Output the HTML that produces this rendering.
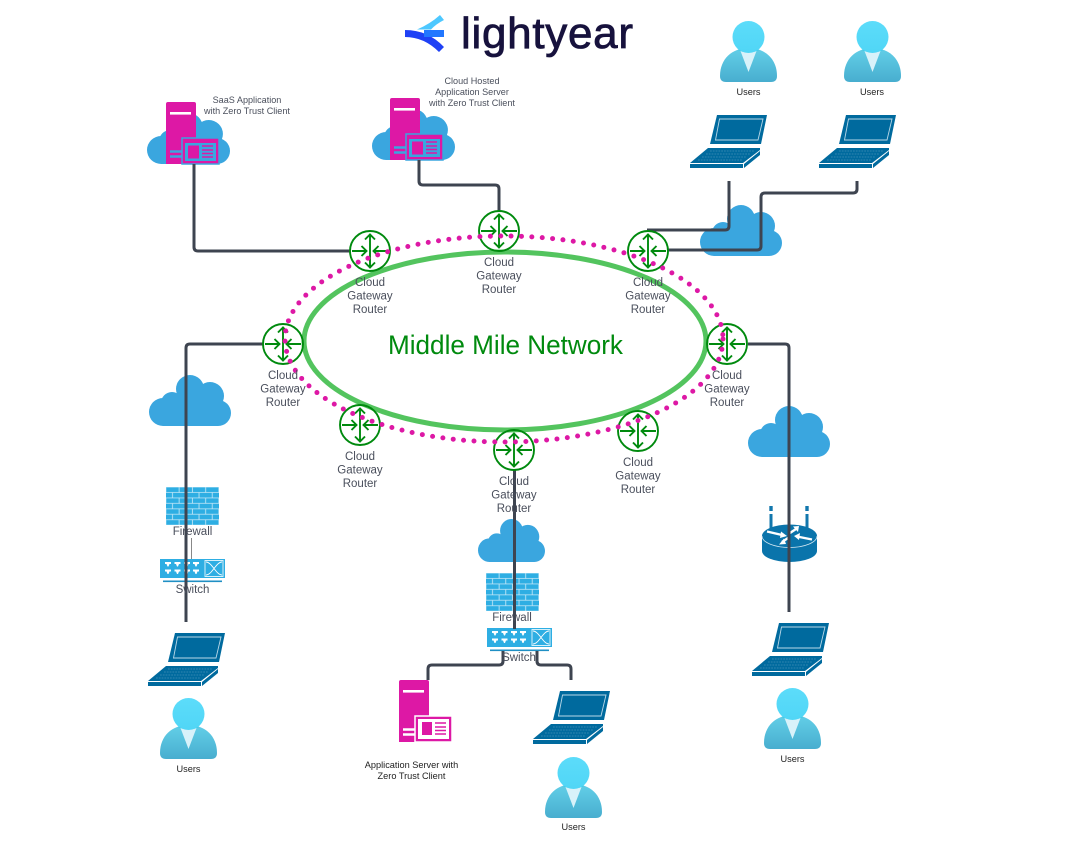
<!DOCTYPE html>
<html>
<head>
<meta charset="utf-8">
<style>
html,body{margin:0;padding:0;background:#fff;width:1088px;height:851px;overflow:hidden}
svg{display:block}
text{font-family:"Liberation Sans",sans-serif}
.r{font-size:11.5px;fill:#4a4f5c;text-anchor:middle}
.s{font-size:9.1px;fill:#4a4f5c;text-anchor:middle}
.k{font-size:9.2px;fill:#222;text-anchor:middle}
.c{fill:none;stroke:#3e4450;stroke-width:3;stroke-linejoin:round}
</style>
</head>
<body>
<svg width="1088" height="851" viewBox="0 0 1088 851" xmlns="http://www.w3.org/2000/svg">
<defs>
<linearGradient id="bg" x1="0" y1="0" x2="0" y2="1"><stop offset="0" stop-color="#63cfe8"/><stop offset="1" stop-color="#48aecf"/></linearGradient>
<linearGradient id="hg" x1="0" y1="0" x2="0" y2="1"><stop offset="0" stop-color="#5cdcfa"/><stop offset="1" stop-color="#50d6f6"/></linearGradient>
<pattern id="brick" width="13.25" height="10.9" patternUnits="userSpaceOnUse">
<rect width="13.25" height="10.9" fill="#c5e8f7"/>
<rect x="0.3" y="0.4" width="12.4" height="4.7" fill="#2eaee3"/>
<rect x="-6.3" y="5.85" width="12.4" height="4.7" fill="#2eaee3"/>
<rect x="6.95" y="5.85" width="12.4" height="4.7" fill="#2eaee3"/>
</pattern>
<symbol id="cloud" viewBox="0 0 82 51" preserveAspectRatio="none" overflow="visible">
<g fill="#3aa6df">
<circle cx="14" cy="37" r="14"/>
<circle cx="23" cy="28" r="11"/>
<circle cx="41" cy="14" r="14"/>
<circle cx="61" cy="21" r="14"/>
<circle cx="69" cy="38" r="13"/>
<rect x="14" y="22" width="55" height="29"/>
</g>
</symbol>
<symbol id="server" viewBox="0 0 54 62" overflow="visible">
<path fill="#dd18a5" d="M2,0 H28 Q30,0 30,2 V36 H16 V62 H0 V2 Q0,0 2,0 Z"/>
<rect x="4" y="10" width="21" height="2.6" fill="#fff"/>
<rect x="16" y="36" width="37" height="26" fill="#dd18a5" stroke="#fff" stroke-width="1.5"/>
<rect x="19" y="39" width="31" height="20" fill="#fff"/>
<rect x="23" y="42" width="10" height="13" fill="#dd18a5"/>
<path d="M36,43 H47 M36,47 H47 M36,50.5 H47 M36,54 H47" stroke="#dd18a5" stroke-width="1.4"/>
<path d="M4,49.5 H16 M4,54.5 H16" stroke="#fff" stroke-width="2.4"/>
</symbol>
<symbol id="server2" viewBox="0 0 54 62" overflow="visible">
<path fill="#dd18a5" d="M2,0 H28 Q30,0 30,2 V36 H16 V62 H0 V2 Q0,0 2,0 Z"/>
<rect x="4" y="10" width="21" height="2.6" fill="#fff"/>
<rect x="16" y="36" width="37" height="26" fill="#dd18a5" stroke="#3aa6df" stroke-width="1.5"/>
<rect x="19" y="41" width="31" height="18" fill="#3aa6df"/>
<rect x="22" y="43.5" width="11" height="13" fill="#dd18a5"/>
<path d="M36,44 H47 M36,48 H47 M36,51.5 H47 M36,55 H47" stroke="#dd18a5" stroke-width="1.4"/>
<path d="M4,49.5 H16 M4,54.5 H16" stroke="#3aa6df" stroke-width="2.4"/>
</symbol>
<symbol id="laptop" viewBox="0 0 77 52" overflow="visible">
<path fill="#006a9e" d="M27,-1 H77 L71,28 H20 Z"/>
<path fill="none" stroke="#b9d8e8" stroke-width="0.9" d="M29.500,3 H73 L68,24 H25.500 Z"/>
<path fill="#006a9e" d="M18,32 H70 V34 L53,47 H0 Z"/>
<path fill="#006a9e" d="M0,48 H53 V52 H0 Z"/>
<path fill="#006a9e" d="M54,48 L70,35 V39 L54,52 Z"/>
<path fill="none" stroke="#5f9fc1" stroke-width="0.6" stroke-dasharray="1.8 1" d="M20,35 H64 M16,38 H60 M12,41 H56 M8,44 H52"/>
</symbol>
<symbol id="user" viewBox="0 0 57 62" overflow="visible">
<path fill="url(#bg)" d="M0,55 C0,38 12,27 28.500,27 C45,27 57,38 57,55 Q57,61 51,61 H6 Q0,61 0,55 Z"/>
<path fill="#d8f2fa" d="M20.500,30 H36.500 L28.500,51 Z"/>
<path fill="#2cc3e2" d="M18,29 Q28.500,24 39,29 Q28.500,34 18,29 Z"/>
<circle cx="28.500" cy="16" r="16" fill="url(#hg)"/>
</symbol>
<symbol id="firewall" viewBox="0 0 53 38" overflow="visible">
<rect width="53" height="38" fill="url(#brick)"/>
</symbol>
<symbol id="switch" viewBox="0 0 65 24" overflow="visible">
<rect width="65" height="19" fill="#2eaee3"/>
<rect x="45" y="1.500" width="18" height="16" fill="#2eaee3" stroke="#d6f0fa" stroke-width="1"/>
<path d="M46,3 C52,3 56,16 62,16 M46,16 C52,16 56,3 62,3" fill="none" stroke="#fff" stroke-width="0.9"/>
<path fill="#fff" d="M5,3 H11 V5 H9.500 L8.500,7.500 H7.500 L6.500,5 H5 Z M14.500,3 H20.500 V5 H19 L18,7.500 H17 L16,5 H14.500 Z M24,3 H30 V5 H28.500 L27.500,7.500 H26.500 L25.500,5 H24 Z M33,3 H39 V5 H37.500 L36.500,7.500 H35.500 L34.500,5 H33 Z M5,10.500 H11 V12.500 H9.500 L8.500,15 H7.500 L6.500,12.500 H5 Z M14.500,10.500 H20.500 V12.500 H19 L18,15 H17 L16,12.500 H14.500 Z M24,10.500 H30 V12.500 H28.500 L27.500,15 H26.500 L25.500,12.500 H24 Z M33,10.500 H39 V12.500 H37.500 L36.500,15 H35.500 L34.500,12.500 H33 Z"/>
<rect x="3" y="21.500" width="59" height="1.600" fill="#1f8fc4"/>
</symbol>
<symbol id="wrouter" viewBox="0 0 55 57" overflow="visible">
<rect x="7.300" y="1" width="3.400" height="5" fill="#1277ad"/>
<rect x="43.300" y="1" width="3.400" height="5" fill="#1277ad"/>
<rect x="7.500" y="9" width="3" height="15" fill="#1277ad"/>
<rect x="43.500" y="9" width="3" height="15" fill="#1277ad"/>
<path fill="#0a74ab" d="M0,31 A27.500 11.500 0 0 1 55,31 V46 A27.500 11 0 0 1 0,46 Z"/>
<path fill="none" stroke="#d5e8f2" stroke-width="0.8" d="M0,31 A27.500 11.500 0 0 0 55,31"/>
<path fill="none" stroke="#fff" stroke-width="2.400" d="M5,26.500 L20,30 M28,28 L34,24 M35,31.500 L50,34.500 M26,33 L20,37"/>
<path fill="#fff" d="M19,26.500 L25,31 L18,33 Z M31,21.500 L37,21 L36,27 Z M38,28 L32,31 L37,35 Z M22,33.500 L17,39.500 L24,39 Z"/>
</symbol>
<symbol id="gw" viewBox="0 0 42 42" overflow="visible">
<circle cx="21" cy="21" r="20" fill="none" stroke="#008a0e" stroke-width="1.900"/>
<path fill="none" stroke="#008a0e" stroke-width="1.900" d="M21,4.500 V37.500 M16,9.500 L21,4.500 L26,9.500 M16,32.500 L21,37.500 L26,32.500 M3,21 H17.500 M12.500,16 L17.500,21 L12.500,26 M39,21 H24.500 M29.500,16 L24.500,21 L29.500,26"/>
</symbol>
</defs>

<!-- logo -->
<path fill="#1f41f5" d="M405,30 V37 Q424,37 439,52 L444,47 Q428,30 405,30 Z"/>
<rect x="424" y="30" width="20" height="7" fill="#2277ff"/>
<path fill="#4dc8ff" d="M417,29.500 Q430,24 440,15 L444,20 Q436,24 431,29.500 Z"/>
<text x="461" y="48" font-size="44" fill="#17123d" stroke="#17123d" stroke-width="0.800" textLength="172" lengthAdjust="spacing">lightyear</text>

<!-- clouds -->
<use href="#cloud" x="700" y="205" width="82" height="51"/>
<use href="#cloud" x="149" y="375" width="82" height="51"/>
<use href="#cloud" x="748" y="406" width="82" height="51"/>
<use href="#cloud" x="478" y="519" width="67" height="43"/>
<use href="#cloud" x="147" y="113" width="83" height="51"/>
<use href="#cloud" x="372" y="109" width="83" height="51"/>

<!-- servers -->
<use href="#server2" x="166" y="102" width="54" height="62"/>
<use href="#server2" x="390" y="98" width="54" height="62"/>
<use href="#server" x="399" y="680" width="54" height="62"/>

<!-- laptops -->
<use href="#laptop" x="690" y="116" width="77" height="52"/>
<use href="#laptop" x="819" y="116" width="77" height="52"/>
<use href="#laptop" x="148" y="634" width="77" height="52"/>
<use href="#laptop" x="533" y="692" width="77" height="52"/>
<use href="#laptop" x="752" y="624" width="77" height="52"/>

<!-- users -->
<use href="#user" x="720" y="21" width="57" height="62"/>
<use href="#user" x="844" y="21" width="57" height="62"/>
<use href="#user" x="160" y="698" width="57" height="62"/>
<use href="#user" x="545" y="757" width="57" height="62"/>
<use href="#user" x="764" y="688" width="57" height="62"/>

<!-- network devices -->
<use href="#firewall" x="166" y="487" width="53" height="38"/>
<use href="#firewall" x="486" y="573" width="53" height="38"/>
<use href="#switch" x="160" y="559" width="65" height="24"/>
<use href="#switch" x="487" y="628" width="65" height="24"/>
<use href="#wrouter" x="762" y="505" width="55" height="57"/>
<path d="M191.500,538 V559" stroke="#888" stroke-width="1" fill="none"/>

<!-- rings -->
<ellipse cx="505" cy="341" rx="201" ry="89" fill="none" stroke="#53c45e" stroke-width="5"/>

<!-- connectors -->
<path class="c" d="M194,164 V247 Q194,251 198,251 H350"/>
<path class="c" d="M419,160 V181 Q419,185 423,185 H495 Q499,185 499,189 V211"/>
<path class="c" d="M647,230 H725 Q729,230 729,226 V181"/>
<path class="c" d="M668,250 H757 Q761,250 761,246 V197 Q761,193 765,193 H853 Q857,193 857,189 V181"/>
<path class="c" d="M263,344 H190 Q186,344 186,348 V622"/>
<path class="c" d="M748,344 H785 Q789,344 789,348 V612"/>
<path class="c" d="M514.500,470 V629"/>
<path class="c" d="M503,651 V661 Q503,665 499,665 H432 Q428,665 428,669 V680"/>
<path class="c" d="M537,651 V661 Q537,665 541,665 H567 Q571,665 571,669 V680"/>

<!-- gateway routers -->
<use href="#gw" x="349" y="230" width="42" height="42"/>
<use href="#gw" x="478" y="210" width="42" height="42"/>
<use href="#gw" x="627" y="230" width="42" height="42"/>
<use href="#gw" x="262" y="323" width="42" height="42"/>
<use href="#gw" x="706" y="323" width="42" height="42"/>
<use href="#gw" x="339" y="404" width="42" height="42"/>
<use href="#gw" x="493" y="429" width="42" height="42"/>
<use href="#gw" x="617" y="410" width="42" height="42"/>

<ellipse cx="504" cy="339" rx="219" ry="103" fill="none" stroke="#dd18a5" stroke-width="5" stroke-linecap="round" stroke-dasharray="0 10.4"/>

<!-- text -->
<text x="388" y="354" font-size="27" fill="#008a0e" textLength="235" lengthAdjust="spacingAndGlyphs">Middle Mile Network</text>

<text class="r" x="370" y="286">Cloud</text><text class="r" x="370" y="299.500">Gateway</text><text class="r" x="370" y="313">Router</text>
<text class="r" x="499" y="266">Cloud</text><text class="r" x="499" y="279.500">Gateway</text><text class="r" x="499" y="293">Router</text>
<text class="r" x="648" y="286">Cloud</text><text class="r" x="648" y="299.500">Gateway</text><text class="r" x="648" y="313">Router</text>
<text class="r" x="283" y="379">Cloud</text><text class="r" x="283" y="392.500">Gateway</text><text class="r" x="283" y="406">Router</text>
<text class="r" x="727" y="379">Cloud</text><text class="r" x="727" y="392.500">Gateway</text><text class="r" x="727" y="406">Router</text>
<text class="r" x="360" y="460">Cloud</text><text class="r" x="360" y="473.500">Gateway</text><text class="r" x="360" y="487">Router</text>
<text class="r" x="514" y="485">Cloud</text><text class="r" x="514" y="498.500">Gateway</text><text class="r" x="514" y="512">Router</text>
<text class="r" x="638" y="466">Cloud</text><text class="r" x="638" y="479.500">Gateway</text><text class="r" x="638" y="493">Router</text>
<text class="r" x="192.500" y="535">Firewall</text>
<text class="r" x="192.500" y="593">Switch</text>
<text class="r" x="512" y="621">Firewall</text>
<text class="r" x="519" y="661">Switch</text>

<text class="s" x="247" y="103">SaaS Application</text>
<text class="s" x="247" y="114">with Zero Trust Client</text>
<text class="s" x="472" y="84">Cloud Hosted</text>
<text class="s" x="472" y="95">Application Server</text>
<text class="s" x="472" y="106">with Zero Trust Client</text>
<text class="k" x="411.500" y="768">Application Server with</text>
<text class="k" x="411.500" y="779">Zero Trust Client</text>
<text class="k" x="748.500" y="95">Users</text>
<text class="k" x="872" y="95">Users</text>
<text class="k" x="188.500" y="772">Users</text>
<text class="k" x="573.500" y="830">Users</text>
<text class="k" x="792.500" y="762">Users</text>
</svg>
</body>
</html>
